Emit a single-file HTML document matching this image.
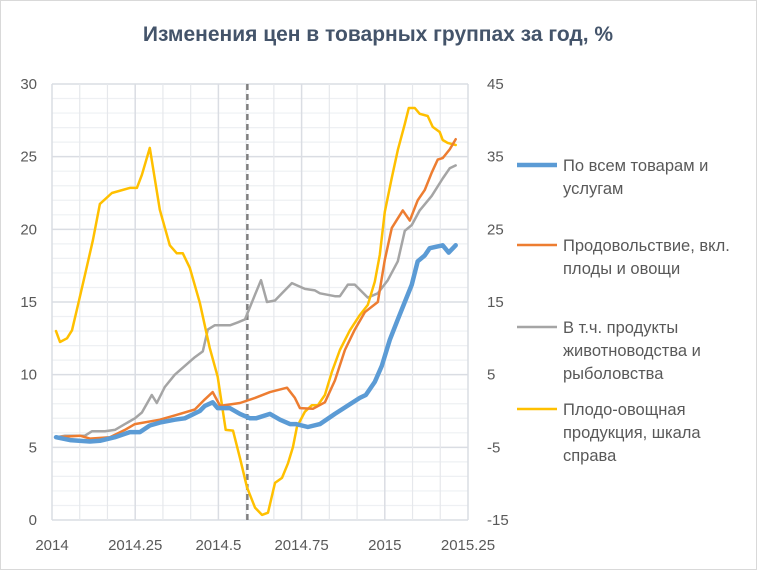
<!DOCTYPE html>
<html><head><meta charset="utf-8">
<style>
body{margin:0;background:#fff;}
#wrap{position:relative;width:757px;height:570px;overflow:hidden;font-family:"Liberation Sans",sans-serif;}
svg text{font-family:"Liberation Sans",sans-serif;}
</style></head>
<body>
<div id="wrap">
<svg id="chart" width="757" height="570"></svg>
</div>
<script>
const leftTicks=[0,5,10,15,20,25,30];
const rightTicks=[-15,-5,5,15,25,35,45];
const xTicks=[2014,2014.25,2014.5,2014.75,2015,2015.25];
const xTickLabels=["2014","2014.25","2014.5","2014.75","2015","2015.25"];
const markerDate=2014.587;

const allDates=[2014.012,2014.054,2014.114,2014.144,2014.189,2014.234,2014.264,2014.294,2014.324,2014.369,2014.399,2014.444,2014.459,2014.483,2014.498,2014.534,2014.565,2014.595,2014.613,2014.655,2014.685,2014.715,2014.733,2014.769,2014.805,2014.850,2014.925,2014.943,2014.970,2014.991,2015.015,2015.039,2015.060,2015.081,2015.099,2015.120,2015.135,2015.174,2015.192,2015.213];
const allValues=[5.7,5.5,5.4,5.45,5.7,6.05,6.05,6.5,6.7,6.9,7.0,7.5,7.85,8.1,7.7,7.7,7.3,7.0,7.0,7.3,6.9,6.6,6.6,6.4,6.6,7.3,8.4,8.6,9.5,10.6,12.4,13.8,15.0,16.2,17.8,18.2,18.7,18.9,18.4,18.9];

const foodDates=[2014.012,2014.084,2014.114,2014.174,2014.219,2014.249,2014.324,2014.369,2014.429,2014.459,2014.483,2014.505,2014.565,2014.610,2014.655,2014.706,2014.730,2014.745,2014.784,2014.820,2014.850,2014.880,2014.910,2014.940,2014.979,2015.000,2015.021,2015.054,2015.075,2015.099,2015.120,2015.141,2015.159,2015.174,2015.195,2015.213];
const foodValues=[5.7,5.8,5.6,5.7,6.2,6.6,6.9,7.2,7.6,8.3,8.8,7.85,8.05,8.4,8.8,9.1,8.4,7.7,7.65,8.1,9.6,11.7,13.1,14.3,15.0,17.9,20.1,21.3,20.6,22.0,22.7,23.9,24.8,24.9,25.5,26.2];

const liveDates=[2014.012,2014.039,2014.099,2014.120,2014.159,2014.189,2014.219,2014.249,2014.270,2014.300,2014.315,2014.339,2014.369,2014.399,2014.429,2014.453,2014.468,2014.489,2014.535,2014.559,2014.580,2014.610,2014.628,2014.646,2014.670,2014.691,2014.721,2014.760,2014.790,2014.805,2014.850,2014.865,2014.889,2014.910,2014.949,2014.979,2015.009,2015.039,2015.060,2015.081,2015.105,2015.141,2015.174,2015.195,2015.213];
const liveValues=[5.7,5.8,5.8,6.1,6.1,6.2,6.6,7.0,7.4,8.6,8.05,9.15,10.0,10.6,11.2,11.6,13.1,13.4,13.4,13.6,13.8,15.5,16.5,15.0,15.1,15.6,16.3,15.9,15.8,15.6,15.4,15.4,16.2,16.2,15.3,15.6,16.5,17.8,19.9,20.3,21.3,22.3,23.5,24.2,24.4];

const vegDates=[2014.012,2014.024,2014.045,2014.060,2014.078,2014.099,2014.123,2014.144,2014.180,2014.234,2014.255,2014.270,2014.294,2014.324,2014.354,2014.375,2014.393,2014.414,2014.444,2014.474,2014.498,2014.522,2014.544,2014.565,2014.586,2014.610,2014.631,2014.649,2014.670,2014.691,2014.709,2014.724,2014.736,2014.760,2014.781,2014.799,2014.820,2014.841,2014.865,2014.895,2014.925,2014.949,2014.970,2014.985,2015.000,2015.021,2015.039,2015.060,2015.072,2015.090,2015.105,2015.129,2015.144,2015.165,2015.174,2015.189,2015.213];
const vegValues=[11.0,9.5,10.0,11.1,14.6,18.7,23.5,28.5,30.0,30.7,30.7,32.5,36.2,27.7,22.8,21.7,21.7,19.7,14.9,8.7,4.7,-2.6,-2.7,-6.5,-10.5,-13.3,-14.3,-14.0,-9.9,-9.2,-7.2,-5.0,-2.2,-0.1,0.8,0.8,2.2,5.4,8.4,11.1,13.2,14.6,17.8,21.5,27.4,32.1,35.9,39.5,41.7,41.7,40.9,40.6,39.1,38.4,37.3,36.9,36.6];

const NS="http://www.w3.org/2000/svg";
const svg=document.getElementById('chart');
const X0=52,X1=468,Y0=520,Y1=84;
function xs(d){return X0+(d-2014)/1.25*(X1-X0);}
function yl(v){return Y0-v/30*(Y0-Y1);}
function yr(v){return Y0-(v+15)/60*(Y0-Y1);}
function mk(tag,attrs){const e=document.createElementNS(NS,tag);for(const k in attrs)e.setAttribute(k,attrs[k]);svg.appendChild(e);return e;}

const bg=mk('rect',{x:0.5,y:0.5,width:756,height:569,fill:'#fff',stroke:'#d9d9d9'});



for(let v=0;v<=30;v++){
  const g=mk('line',{x1:X0,x2:X1,y1:yl(v),y2:yl(v),stroke:v%5===0?'#dadde3':'#eef0f3','stroke-width':v%5===0?1.5:1.2});
  
  
}
for(let m=0;m<=15;m++){
  const d=2014+m/12;
  const g=mk('line',{x1:xs(d),x2:xs(d),y1:Y1,y2:Y0,stroke:m%3===0?'#dadde3':'#e6e8ec','stroke-width':m%3===0?1.5:1.2});
  
  
}
const dl=mk('line',{x1:xs(markerDate),x2:xs(markerDate),y1:Y1,y2:Y0,stroke:'#7f7f7f','stroke-width':2.5,'stroke-dasharray':'6,4'});



leftTicks.forEach(v=>{const t=mk('text',{x:37,y:yl(v)+5,'text-anchor':'end','font-size':15,fill:'#595959'});t.textContent=v;

});
rightTicks.forEach(v=>{const t=mk('text',{x:487,y:yr(v)+5,'text-anchor':'start','font-size':15,fill:'#595959'});t.textContent=v;

});
xTicks.forEach((d,i)=>{const t=mk('text',{x:xs(d),y:550,'text-anchor':'middle','font-size':15,fill:'#595959'});t.textContent=xTickLabels[i];

});

function series(dates,vals,scale,color,w,name){
  const pts=dates.map((d,i)=>xs(d).toFixed(1)+','+scale(vals[i]).toFixed(1)).join(' ');
  const p=mk('polyline',{points:pts,fill:'none',stroke:color,'stroke-width':w,'stroke-linejoin':'round','stroke-linecap':'round'});
  
  
}
series(liveDates,liveValues,yl,'#a5a5a5',2.5,'livestock-line');
series(vegDates,vegValues,yr,'#ffc000',2.5,'fruit-veg-line');
series(foodDates,foodValues,yl,'#ed7d31',2.5,'food-line');
series(allDates,allValues,yl,'#5b9bd5',4.5,'all-goods-line');

const tt=mk('text',{x:378,y:41,'text-anchor':'middle','font-size':21,'font-weight':'bold',fill:'#44546a'});
tt.textContent='Изменения цен в товарных группах за год, %';



const legend=[
 {c:'#5b9bd5',w:4.5,lines:['По всем товарам и','услугам'],y:165,n:'legend-all-goods'},
 {c:'#ed7d31',w:2.5,lines:['Продовольствие, вкл.','плоды и овощи'],y:245,n:'legend-food'},
 {c:'#a5a5a5',w:2.5,lines:['В т.ч. продукты','животноводства и','рыболовства'],y:327,n:'legend-livestock'},
 {c:'#ffc000',w:2.5,lines:['Плодо-овощная','продукция, шкала','справа'],y:409,n:'legend-fruit-veg'}
];
legend.forEach(L=>{
  const ln=mk('line',{x1:517,x2:557,y1:L.y,y2:L.y,stroke:L.c,'stroke-width':L.w});
  
  
  L.lines.forEach((s,i)=>{
    const t=mk('text',{x:563,y:L.y+6+i*23,'font-size':16.5,fill:'#595959'});
    t.textContent=s;
    
    
  });
});
</script>
</body></html>
